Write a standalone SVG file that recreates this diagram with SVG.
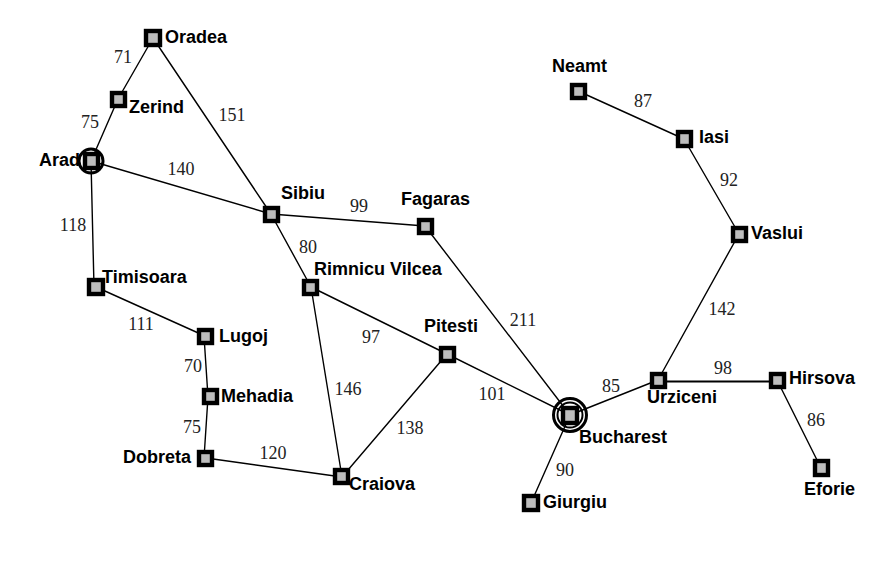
<svg xmlns="http://www.w3.org/2000/svg" width="883" height="577" viewBox="0 0 883 577">
<style>
.e{stroke:#000;stroke-width:1.4;fill:none}
.n{fill:#bdbdbd;stroke:#000;stroke-width:4.4}
.r{fill:none;stroke:#000;stroke-width:3}
.l{font:bold 18px "Liberation Sans",Arial,sans-serif;fill:#000}
.w{font:18px "Liberation Serif","Times New Roman",serif;fill:#222;text-anchor:middle}
</style>
<rect width="883" height="577" fill="#fff"/>
<g id="connectors">
<path class="e" d="M153 38L118 99M118 99L91 161M153 38L271 214M91 161L271 214M91 161L94 287M271 214L425 226M271 214L311 287M96 287L205 336M204 336L208 397M208 397L204 458M206 458L342 477M311 287L342 477M311 287L447 354M447 354L342 477M447 354L570 415M425 226L570 415M570 415L531 503M570 415L658 380M658 380L739 234M739 234L684 139M684 139L578 91M777 380L821 468"/>
<path d="M658 381.500H777" stroke="#000" stroke-width="2.2" fill="none"/>
</g>
<g id="edge-labels">
<text class="w" x="123" y="63">71</text><text class="w" x="90" y="128">75</text><text class="w" x="232" y="121">151</text><text class="w" x="181" y="175">140</text><text class="w" x="73" y="231">118</text><text class="w" x="359" y="212">99</text><text class="w" x="308" y="253">80</text><text class="w" x="141" y="330">111</text><text class="w" x="193" y="372">70</text><text class="w" x="192" y="433">75</text><text class="w" x="273" y="459">120</text><text class="w" x="371" y="343">97</text><text class="w" x="348" y="395">146</text><text class="w" x="410" y="434">138</text><text class="w" x="492" y="400">101</text><text class="w" x="523" y="326">211</text><text class="w" x="611" y="392">85</text><text class="w" x="565" y="476">90</text><text class="w" x="643" y="107">87</text><text class="w" x="729" y="186">92</text><text class="w" x="722" y="315">142</text><text class="w" x="723" y="374">98</text><text class="w" x="816" y="426">86</text>
</g>
<g id="oradea"><rect class="n" x="146" y="31" width="14" height="14"/><text class="l" x="165" y="43">Oradea</text></g>
<g id="zerind"><rect class="n" x="112" y="93" width="13" height="13"/><text class="l" x="129" y="113">Zerind</text></g>
<g id="arad"><text class="l" x="39" y="166">Arad</text><circle class="r" cx="91" cy="161" r="12"/><rect class="n" x="85" y="154" width="13" height="14"/></g>
<g id="sibiu"><rect class="n" x="265" y="208" width="13" height="13"/><text class="l" x="281" y="199">Sibiu</text></g>
<g id="fagaras"><rect class="n" x="419" y="220" width="13" height="13"/><text class="l" x="401" y="205">Fagaras</text></g>
<g id="timisoara"><rect class="n" x="89" y="280" width="14" height="14"/><text class="l" x="102" y="283">Timisoara</text></g>
<g id="rimnicu"><rect class="n" x="304" y="281" width="13" height="13"/><text class="l" x="314" y="275">Rimnicu Vilcea</text></g>
<g id="lugoj"><rect class="n" x="199" y="330" width="13" height="13"/><text class="l" x="219" y="342">Lugoj</text></g>
<g id="pitesti"><rect class="n" x="441" y="348" width="13" height="13"/><text class="l" x="424" y="332">Pitesti</text></g>
<g id="mehadia"><rect class="n" x="204" y="390" width="13" height="13"/><text class="l" x="221" y="402">Mehadia</text></g>
<g id="dobreta"><rect class="n" x="199" y="452" width="13" height="13"/><text class="l" x="123" y="463">Dobreta</text></g>
<g id="craiova"><rect class="n" x="335" y="470" width="13" height="13"/><text class="l" x="349" y="490">Craiova</text></g>
<g id="bucharest"><circle class="r" cx="570" cy="415" r="16.500"/><circle fill="none" stroke="#000" stroke-width="2" cx="570" cy="415" r="12.500"/><rect class="n" x="563" y="408" width="14" height="15"/><text class="l" x="579" y="443">Bucharest</text></g>
<g id="giurgiu"><rect class="n" x="524" y="496" width="14" height="14"/><text class="l" x="543" y="508">Giurgiu</text></g>
<g id="urziceni"><rect class="n" x="652" y="374" width="13" height="13"/><text class="l" x="647" y="403">Urziceni</text></g>
<g id="hirsova"><rect class="n" x="771" y="374" width="13" height="13"/><text class="l" x="789" y="384">Hirsova</text></g>
<g id="eforie"><rect class="n" x="815" y="461" width="13" height="14"/><text class="l" x="804" y="495">Eforie</text></g>
<g id="vaslui"><rect class="n" x="733" y="228" width="13" height="13"/><text class="l" x="751" y="239">Vaslui</text></g>
<g id="iasi"><rect class="n" x="678" y="132" width="13" height="14"/><text class="l" x="699" y="143">Iasi</text></g>
<g id="neamt"><rect class="n" x="572" y="85" width="13" height="13"/><text class="l" x="552" y="72">Neamt</text></g>
</svg>
